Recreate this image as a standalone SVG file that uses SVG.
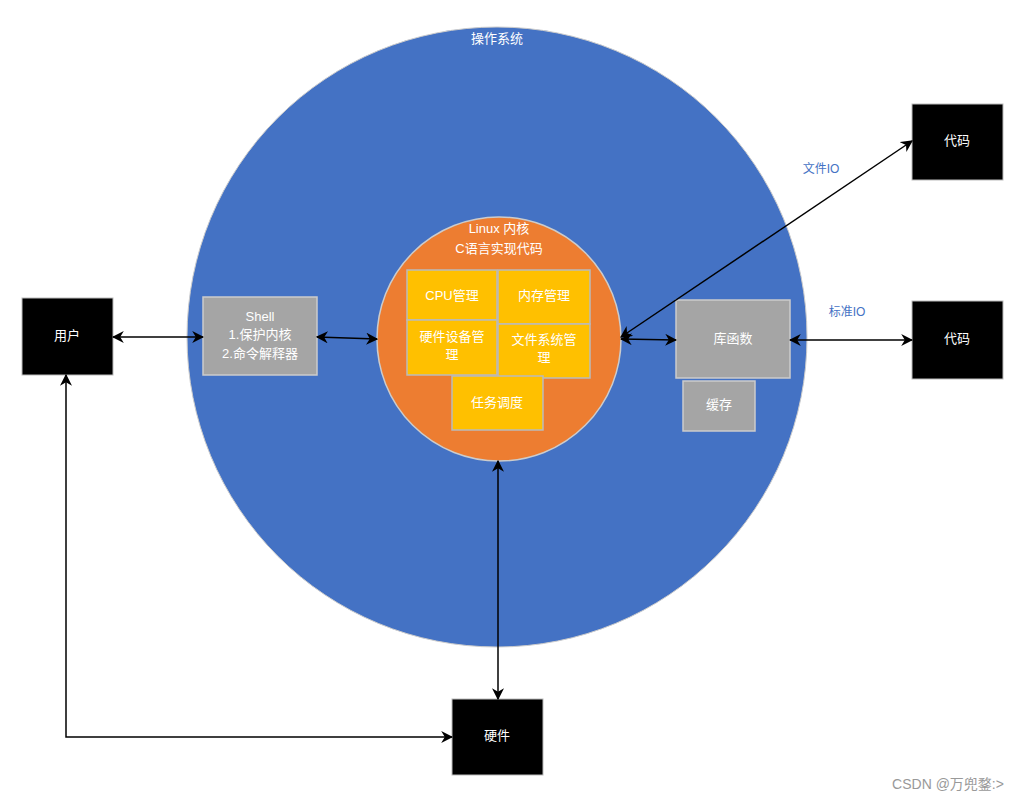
<svg xmlns="http://www.w3.org/2000/svg" width="1028" height="802" viewBox="0 0 1028 802">
<style>
text{font-family:"Liberation Sans","Noto Sans CJK SC",sans-serif;font-size:13px;fill:#fff;text-anchor:middle;dominant-baseline:middle}
.blk{fill:#000;stroke:#bbb;stroke-width:1}
.gry{fill:#a5a5a5;stroke:#ccc;stroke-width:1.5}
.yel{fill:#ffc000;stroke:#bbb;stroke-width:1.5}
.ln{stroke:#000;stroke-width:1.5;fill:none}
.lbl{fill:#4472c4;font-size:12px}
</style>
<defs>
<marker id="a" viewBox="0 0 10 10" refX="9" refY="5" markerWidth="8" markerHeight="8" orient="auto-start-reverse"><path d="M0,0L10,5L0,10L3,5z" fill="#000"/></marker>
</defs>
<rect width="1028" height="802" fill="#fff"/>
<g id="os"><circle cx="497" cy="337" r="310" fill="#4472c4" stroke="#ccc"/><text x="497" y="40">操作系统</text></g>
<g id="kernel"><circle cx="499" cy="339" r="122" fill="#ed7d31" stroke="#ccc" stroke-width="1.5"/><text x="499" y="230">Linux 内核</text><text x="499" y="250">C语言实现代码</text></g>
<g id="cpu"><rect class="yel" x="407" y="270" width="90" height="50"/><text x="452" y="297">CPU管理</text></g>
<g id="mem"><rect class="yel" x="498" y="270" width="92" height="54"/><text x="544" y="297">内存管理</text></g>
<g id="dev"><rect class="yel" x="407" y="320" width="90" height="55"/><text x="452" y="338">硬件设备管</text><text x="452" y="356">理</text></g>
<g id="fs"><rect class="yel" x="498" y="324" width="92" height="54"/><text x="544" y="341">文件系统管</text><text x="544" y="359">理</text></g>
<g id="sched"><rect class="yel" x="452" y="376" width="91" height="54"/><text x="497" y="404">任务调度</text></g>
<g id="shell"><rect class="gry" x="203" y="297" width="114" height="78"/><text x="260" y="318">Shell</text><text x="260" y="336">1.保护内核</text><text x="260" y="355">2.命令解释器</text></g>
<g id="lib"><rect class="gry" x="676" y="300" width="114" height="78"/><text x="733" y="340">库函数</text></g>
<g id="cache"><rect class="gry" x="683" y="381" width="72" height="50"/><text x="719" y="406">缓存</text></g>
<g id="user"><rect class="blk" x="22" y="298" width="91" height="77"/><text x="67" y="337">用户</text></g>
<g id="code1"><rect class="blk" x="912" y="104" width="91" height="76"/><text x="957" y="142">代码</text></g>
<g id="code2"><rect class="blk" x="912" y="301" width="91" height="78"/><text x="957" y="340">代码</text></g>
<g id="hw"><rect class="blk" x="452" y="699" width="91" height="76"/><text x="497" y="737">硬件</text></g>
<g id="connectors">
<line class="ln" x1="113" y1="337" x2="203" y2="337" marker-start="url(#a)" marker-end="url(#a)"/>
<line class="ln" x1="317" y1="337" x2="377" y2="339" marker-start="url(#a)" marker-end="url(#a)"/>
<line class="ln" x1="621" y1="339" x2="676" y2="340" marker-start="url(#a)" marker-end="url(#a)"/>
<line class="ln" x1="790" y1="340" x2="912" y2="340" marker-start="url(#a)" marker-end="url(#a)"/>
<line class="ln" x1="621" y1="337" x2="912" y2="141" marker-start="url(#a)" marker-end="url(#a)"/>
<line class="ln" x1="498" y1="461" x2="498" y2="699" marker-start="url(#a)" marker-end="url(#a)"/>
<path class="ln" d="M66,375V737H452" marker-start="url(#a)" marker-end="url(#a)"/>
<text class="lbl" x="821" y="170">文件IO</text>
<text class="lbl" x="847" y="313">标准IO</text>
</g>
<text x="948" y="785" style="fill:#999;font-size:14px">CSDN @万兜鍪:&gt;</text>
</svg>
